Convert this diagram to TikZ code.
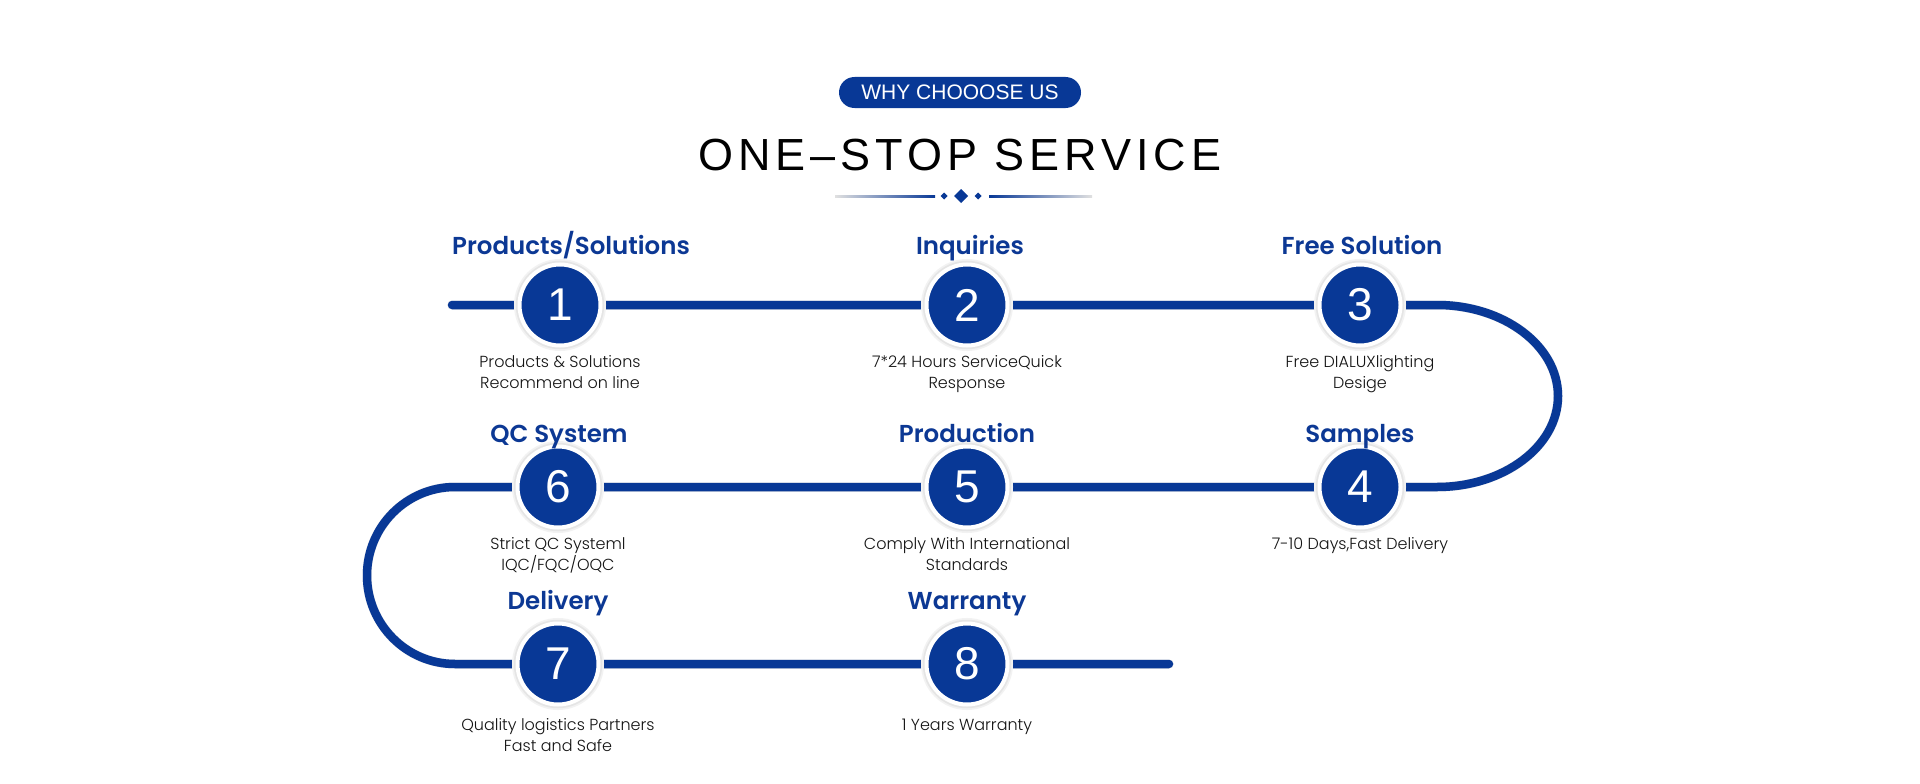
\documentclass[tikz,border=0pt]{standalone}
\usepackage{fontspec}
\setmainfont{Liberation Sans}
\newfontfamily\headfont{Liberation Sans}[LetterSpace=11]
\newfontfamily\numfontfam{Liberation Sans}
\IfFontExistsTF{Poppins SemiBold}{\newfontfamily\titlefontfam{Poppins SemiBold}}{\newfontfamily\titlefontfam{Poppins}[FakeBold=1.5]}
\IfFontExistsTF{Poppins Light}{\newfontfamily\descfontfam{Poppins Light}}{\newfontfamily\descfontfam{Poppins}}
\pgfdeclarelayer{bg}
\pgfsetlayers{bg,main}
\definecolor{navy}{RGB}{8,56,150}
\definecolor{titleblue}{RGB}{12,56,148}
\definecolor{desctext}{RGB}{20,20,20}
\tikzset{
  stepnum/.style={circle, fill=navy, draw=white, line width=4pt, minimum size=81pt, inner sep=0pt,
    text=white, font=\numfontfam\fontsize{46}{46}\selectfont,
    preaction={draw=black!5, line width=11pt},
    preaction={draw=black!10, line width=7.5pt}},
  steptitle/.style={anchor=base, text=titleblue, inner sep=0pt, font=\titlefontfam\fontsize{24.5}{24.5}\selectfont},
  stepdesc/.style={anchor=base, text=desctext, inner sep=0pt, font=\descfontfam\fontsize{16}{16}\selectfont},
  track/.style={draw=navy, line width=8.5pt, line cap=round, line join=round},
  trackshadow/.style={draw=black!25, opacity=0.45, line width=9pt, line cap=round, line join=round},
}
\begin{document}
\begin{tikzpicture}[x=1pt,y=-1pt]
\begin{pgfonlayer}{bg}
\useasboundingbox[fill=white] (0,0) rectangle (1920,784);
\end{pgfonlayer}

% header
\node[fill=navy, rounded corners=15.5pt, minimum width=242pt, minimum height=31pt, inner sep=0pt,
  text=white, font=\fontsize{21}{21}\selectfont] (pill) at (960,92.5) {WHY CHOOOSE US};
\node[anchor=base, inner sep=0pt, font=\headfont\fontsize{45}{45}\selectfont] (head) at (960,170) {ONE–STOP SERVICE};
\shade[left color=black!12, right color=navy] (835,195) rectangle (935,197);
\shade[left color=navy, right color=black!12] (989,195) rectangle (1092,197);
\fill[navy] (961,189) -- (968,196) -- (961,203) -- (954,196) -- cycle;
\fill[navy] (944,192.5) -- (947.5,196) -- (944,199.5) -- (940.5,196) -- cycle;
\fill[navy] (978,192.5) -- (981.5,196) -- (978,199.5) -- (974.5,196) -- cycle;

% steps
\node[stepnum] (n1) at (560,305) {1};
\node[stepnum] (n2) at (967,305) {2};
\node[stepnum] (n3) at (1360,305) {3};
\node[stepnum] (n4) at (1360,487) {4};
\node[stepnum] (n5) at (967,487) {5};
\node[stepnum] (n6) at (558,487) {6};
\node[stepnum] (n7) at (558,664) {7};
\node[stepnum] (n8) at (967,664) {8};

\coordinate (s) at (452,305);
\coordinate (ra) at (1437,305);
\coordinate (la) at (455,487);
\coordinate (e) at (1169,664);

\begin{pgfonlayer}{bg}
\begin{scope}[shift={(1,3)}]
\draw[trackshadow] (s) -- (n1.center) -- (n2.center) -- (n3.center) -- (ra)
  arc[start angle=90, end angle=-90, x radius=121pt, y radius=91pt] -- (n4.center) -- (n5.center) -- (n6.center) -- (la)
  arc[start angle=90, end angle=270, x radius=88pt, y radius=88.5pt] -- (n7.center) -- (n8.center) -- (e);
\end{scope}
\draw[track] (s) -- (n1.center) -- (n2.center) -- (n3.center) -- (ra)
  arc[start angle=90, end angle=-90, x radius=121pt, y radius=91pt] -- (n4.center) -- (n5.center) -- (n6.center) -- (la)
  arc[start angle=90, end angle=270, x radius=88pt, y radius=88.5pt] -- (n7.center) -- (n8.center) -- (e);
\end{pgfonlayer}

% titles
\node[steptitle] (t1) at (571,254) {Products/Solutions};
\node[steptitle] (t2) at (970,254) {Inquiries};
\node[steptitle] (t3) at (1362,254) {Free Solution};
\node[steptitle] (t4) at (1360,442) {Samples};
\node[steptitle] (t5) at (967,442) {Production};
\node[steptitle] (t6) at (559,442) {QC System};
\node[steptitle] (t7) at (558,609) {Delivery};
\node[steptitle] (t8) at (967,609) {Warranty};

% descriptions
\node[stepdesc] (d1a) at (560,367) {Products \& Solutions};
\node[stepdesc] (d1b) at (560,388) {Recommend on line};
\node[stepdesc] (d2a) at (967,367) {7*24 Hours ServiceQuick};
\node[stepdesc] (d2b) at (967,388) {Response};
\node[stepdesc] (d3a) at (1360,367) {Free DIALUXlighting};
\node[stepdesc] (d3b) at (1360,388) {Desige};
\node[stepdesc] (d4a) at (1360,549) {7-10 Days,Fast Delivery};
\node[stepdesc] (d5a) at (967,549) {Comply With International};
\node[stepdesc] (d5b) at (967,570) {Standards};
\node[stepdesc] (d6a) at (558,549) {Strict QC Systeml};
\node[stepdesc] (d6b) at (558,570) {IQC/FQC/OQC};
\node[stepdesc] (d7a) at (558,730) {Quality logistics Partners};
\node[stepdesc] (d7b) at (558,751) {Fast and Safe};
\node[stepdesc] (d8a) at (967,730) {1 Years Warranty};
\end{tikzpicture}
\end{document}
